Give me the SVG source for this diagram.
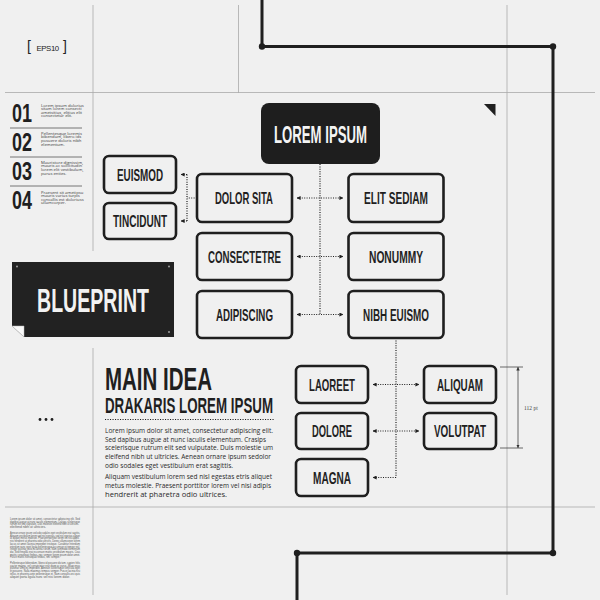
<svg xmlns="http://www.w3.org/2000/svg" width="600" height="600" viewBox="0 0 600 600">
<defs>
<style>
.grid{stroke:#a9a9a9;stroke-width:0.8;fill:none}
.node rect{fill:#f0f0f0;stroke:#1f1f1f;stroke-width:2.6}
.lbl{font-family:"Liberation Sans",Arial,sans-serif;font-weight:bold;font-size:16.5px;fill:#1f1f1f}
.head{font-family:"Liberation Sans",Arial,sans-serif;font-weight:bold;fill:#1f1f1f}
.body{font-family:"Open Sans","Liberation Sans",sans-serif;font-size:7.2px;fill:#2a2a2a}
.tiny{font-family:"Open Sans","Liberation Sans",sans-serif;font-size:4.2px;fill:#3a3a3a}
.micro{font-family:"Liberation Sans",sans-serif;font-size:2.6px;fill:#555}
.conn{stroke:#1f1f1f;stroke-width:1.2;stroke-dasharray:1 1.4;fill:none}
</style>
<marker id="ah" viewBox="0 0 4 4" refX="3.6" refY="2" markerWidth="4" markerHeight="4" markerUnits="userSpaceOnUse" orient="auto-start-reverse">
<path d="M0,0 L4,2 L0,4 z" fill="#1f1f1f"/>
</marker>
<marker id="dh" viewBox="0 0 4 4" refX="4" refY="2" markerWidth="3.5" markerHeight="3.5" markerUnits="userSpaceOnUse" orient="auto-start-reverse">
<path d="M0,0 L4,2 L0,4 z" fill="#333"/>
</marker>
</defs>
<rect width="600" height="600" fill="#f0f0f0"/>

<g id="grid">
<line class="grid" x1="93" y1="5" x2="93" y2="251"/>
<line class="grid" x1="93" y1="348" x2="93" y2="595"/>
<line class="grid" x1="238.5" y1="5" x2="238.5" y2="93"/>
<line class="grid" x1="507" y1="5" x2="507" y2="595"/>
<line class="grid" x1="5" y1="92.5" x2="595" y2="92.5"/>
<line class="grid" x1="5" y1="507" x2="595" y2="507"/>
</g>

<g id="frame-line">
<path d="M262,0 V46.5 H553 V553 H297 V600" fill="none" stroke="#1f1f1f" stroke-width="3"/>
<circle cx="262" cy="46.5" r="3.2" fill="#1f1f1f"/>
<circle cx="553" cy="46.5" r="3.2" fill="#1f1f1f"/>
<circle cx="553" cy="553" r="3.2" fill="#1f1f1f"/>
<circle cx="297" cy="553" r="3.2" fill="#1f1f1f"/>
</g>

<g id="eps">
<text x="27" y="50.5" font-family="Liberation Sans,sans-serif" font-size="14" fill="#222">[<tspan x="36.5" font-size="7.8" letter-spacing="-0.4">EPS10</tspan><tspan x="63" font-size="14">]</tspan></text>
</g>

<g id="numbers">
<line x1="10" y1="128" x2="82" y2="128" stroke="#555" stroke-width="0.8"/>
<line x1="10" y1="157" x2="82" y2="157" stroke="#555" stroke-width="0.8"/>
<line x1="10" y1="186" x2="82" y2="186" stroke="#555" stroke-width="0.8"/>
<text class="head" x="12" y="122" font-size="25" textLength="20" lengthAdjust="spacingAndGlyphs">01</text>
<text class="head" x="12" y="151" font-size="25" textLength="20" lengthAdjust="spacingAndGlyphs">02</text>
<text class="head" x="12" y="180" font-size="25" textLength="20" lengthAdjust="spacingAndGlyphs">03</text>
<text class="head" x="12" y="209" font-size="25" textLength="20" lengthAdjust="spacingAndGlyphs">04</text>
<text class="tiny"><tspan x="41" y="106.5">Lorem ipsum dolorius</tspan><tspan x="41" y="110">sitam lorem consecti</tspan><tspan x="41" y="113.7">ametsitius, elitius elit</tspan><tspan x="41" y="117.3">consectetur elit.</tspan></text>
<text class="tiny"><tspan x="41" y="134.8">Pellentesque loremis</tspan><tspan x="41" y="138.4">bibendum, libero ids</tspan><tspan x="41" y="142">posuere doloris nibh</tspan><tspan x="41" y="145.6">elementum.</tspan></text>
<text class="tiny"><tspan x="41" y="163.5">Mauristore dignissim,</tspan><tspan x="41" y="167.3">mauris ac sollicitudin</tspan><tspan x="41" y="171.2">lorem elit vestibulum,</tspan><tspan x="41" y="175">purus enties.</tspan></text>
<text class="tiny"><tspan x="41" y="193.5">Praesent sit ametipsu</tspan><tspan x="41" y="197">mauris varius turpis</tspan><tspan x="41" y="200.7">convallis est doloriuss</tspan><tspan x="41" y="204.4">ullamcorper.</tspan></text>
</g>

<g id="blueprint">
<path d="M12,262 H174 V337 H24 L12,326 Z" fill="#222"/>
<path d="M12,326 H24 V337 Z" fill="#fafafa" stroke="#bbb" stroke-width="0.5"/>
<circle cx="17" cy="266.5" r="0.9" fill="#aaa"/>
<circle cx="169" cy="266.5" r="0.9" fill="#aaa"/>
<circle cx="169" cy="332" r="0.9" fill="#aaa"/>
<text class="head" x="37" y="312" font-size="33" style="fill:#f2f2f2" textLength="112" lengthAdjust="spacingAndGlyphs">BLUEPRINT</text>
</g>

<g id="dots">
<circle cx="40" cy="419.5" r="1.4" fill="#1f1f1f"/>
<circle cx="46" cy="419.5" r="1.4" fill="#1f1f1f"/>
<circle cx="52" cy="419.5" r="1.4" fill="#1f1f1f"/>
</g>

<g id="main-idea">
<text class="head" x="105" y="390" font-size="32" textLength="107" lengthAdjust="spacingAndGlyphs">MAIN IDEA</text>
<text class="head" x="105" y="413" font-size="21.5" textLength="168" lengthAdjust="spacingAndGlyphs">DRAKARIS LOREM IPSUM</text>
<line x1="105" y1="419.5" x2="274" y2="419.5" stroke="#1f1f1f" stroke-width="1.2" stroke-dasharray="1.1 1.4"/>
<text class="body" x="105" y="433" textLength="168" lengthAdjust="spacingAndGlyphs">Lorem ipsum dolor sit amet, consectetur adipiscing elit.</text>
<text class="body" x="105" y="441.7" textLength="161" lengthAdjust="spacingAndGlyphs">Sed dapibus augue at nunc iaculis elementum. Crasips</text>
<text class="body" x="105" y="450.4" textLength="168" lengthAdjust="spacingAndGlyphs">scelerisque rutrum elit sed vulputate. Duis molestie um</text>
<text class="body" x="105" y="459.1" textLength="166" lengthAdjust="spacingAndGlyphs">eleifend nibh ut ultricies. Aenean ornare ipsum sedolor</text>
<text class="body" x="105" y="467.8" textLength="128" lengthAdjust="spacingAndGlyphs">odio sodales eget vestibulum erat sagittis.</text>
<text class="body" x="105" y="479.3" textLength="167" lengthAdjust="spacingAndGlyphs">Aliquam vestibulum lorem sed nisl egestas etris aliquet</text>
<text class="body" x="105" y="488" textLength="166" lengthAdjust="spacingAndGlyphs">metus molestie. Praesent porttitor lorem vel nisi adipis</text>
<text class="body" x="105" y="496.7" textLength="122" lengthAdjust="spacingAndGlyphs">hendrerit at pharetra odio ultrices.</text>
</g>

<g id="fine-print">
<text class="micro" x="10" y="520" textLength="70" lengthAdjust="spacingAndGlyphs">Lorem ipsum dolor sit amet, consectetur adipiscing elit. Sed</text>
<text class="micro" x="10" y="522.7" textLength="70" lengthAdjust="spacingAndGlyphs">dapibus augue at nunc iaculis elementum. Crasips scelerisque</text>
<text class="micro" x="10" y="525.4" textLength="69" lengthAdjust="spacingAndGlyphs">rutrum elit sed vulputate. Duis molestie eleifend nibh ut ultricies.</text>
<text class="micro" x="10" y="528.1" textLength="36" lengthAdjust="spacingAndGlyphs">eleifend nibh ut ultricies.</text>
<text class="micro" x="10" y="534" textLength="70" lengthAdjust="spacingAndGlyphs">Aenean ornare ipsum sed odio sodales eget vestibulum erat sagittis.</text>
<text class="micro" x="10" y="536.7" textLength="70" lengthAdjust="spacingAndGlyphs">Aliquam vestibulum lorem sed nisl egestas, sed nisl egestas aliquet</text>
<text class="micro" x="10" y="539.4" textLength="69" lengthAdjust="spacingAndGlyphs">at aliquet metus molestie. Praesent porttitor lorem vel nisi adipis</text>
<text class="micro" x="10" y="542.1" textLength="70" lengthAdjust="spacingAndGlyphs">nisi hendrerit at pharetra odio ultrices. Donec ullamcorper lorem</text>
<text class="micro" x="10" y="544.8" textLength="70" lengthAdjust="spacingAndGlyphs">lacus sit amet lacinia imperdiet tristique. Curabitur interdum</text>
<text class="micro" x="10" y="547.5" textLength="70" lengthAdjust="spacingAndGlyphs">interdum nunc eget ligula pellentesque accumsan et tempor nisl.</text>
<text class="micro" x="10" y="550.2" textLength="70" lengthAdjust="spacingAndGlyphs">Integer pulvinar justo eu lacinia rutrum. Nam commodo elementum</text>
<text class="micro" x="10" y="552.9" textLength="70" lengthAdjust="spacingAndGlyphs">dui. Sed fringilla erat eu ornare mattis vestibulum mauris. Cras</text>
<text class="micro" x="10" y="555.6" textLength="70" lengthAdjust="spacingAndGlyphs">mattis consequat finibus, nec semper lorem ipsum dolor amet.</text>
<text class="micro" x="10" y="558.3" textLength="50" lengthAdjust="spacingAndGlyphs">Fusce mattis consequat finibus, nec semper.</text>
<text class="micro" x="10" y="564" textLength="70" lengthAdjust="spacingAndGlyphs">Pellentesque bibendum, libero id posuere dictum, sapien felis</text>
<text class="micro" x="10" y="566.7" textLength="70" lengthAdjust="spacingAndGlyphs">auctor magna, vel consectetur erat diam ac purus. Maecenas</text>
<text class="micro" x="10" y="569.4" textLength="70" lengthAdjust="spacingAndGlyphs">pulvinar ultrices imperdiet. Aenean scelerisque vehicula eget</text>
<text class="micro" x="10" y="572.1" textLength="70" lengthAdjust="spacingAndGlyphs">et posuere. Nulla maximus tempus semper. Fusce lacinia nisi</text>
<text class="micro" x="10" y="574.8" textLength="70" lengthAdjust="spacingAndGlyphs">tellus, in pharetra ante pellentesque et. Nam convallis orci quis</text>
<text class="micro" x="10" y="577.5" textLength="60" lengthAdjust="spacingAndGlyphs">aliquet porta ligula nunc vel nisi lorem dolor.</text>
</g>

<g id="connectors">
<path class="conn" d="M197,198 H187"/>
<path class="conn" d="M187,174.5 V221"/>
<path class="conn" d="M187,174.5 H181" marker-end="url(#ah)"/>
<path class="conn" d="M187,221 H181" marker-end="url(#ah)"/>
<path class="conn" d="M320,164 V314"/>
<path class="conn" d="M297,198 H343" marker-start="url(#ah)" marker-end="url(#ah)"/>
<path class="conn" d="M297,256.5 H343" marker-start="url(#ah)" marker-end="url(#ah)"/>
<path class="conn" d="M297,314.5 H343" marker-start="url(#ah)" marker-end="url(#ah)"/>
<path class="conn" d="M396,338 V477.5"/>
<path class="conn" d="M373,384.5 H419" marker-start="url(#ah)" marker-end="url(#ah)"/>
<path class="conn" d="M373,431 H419" marker-start="url(#ah)" marker-end="url(#ah)"/>
<path class="conn" d="M396,477.5 H373" marker-end="url(#ah)"/>
</g>

<g id="corner-mark">
<path d="M484,104 H495.5 V116 Z" fill="#1f1f1f"/>
</g>

<g id="dimension">
<line x1="500" y1="367" x2="523" y2="367" stroke="#444" stroke-width="0.8"/>
<line x1="500" y1="448" x2="523" y2="448" stroke="#444" stroke-width="0.8"/>
<line x1="518" y1="367" x2="518" y2="448" stroke="#444" stroke-width="0.8" marker-start="url(#dh)" marker-end="url(#dh)"/>
<text x="524" y="409.5" font-family="Liberation Serif,serif" font-size="5.5" fill="#444">112 pt</text>
</g>

<g id="n-lorem">
<rect x="261" y="103" width="119" height="61" rx="8" fill="#1e1e1e"/>
<text class="head" x="274" y="143" font-size="23.5" style="fill:#f4f4f4" textLength="93" lengthAdjust="spacingAndGlyphs">LOREM IPSUM</text>
</g>
<g id="n-euismod" class="node"><rect x="104" y="156" width="72" height="37" rx="5"/><text class="lbl" x="117" y="181" textLength="46" lengthAdjust="spacingAndGlyphs">EUISMOD</text></g>
<g id="n-tincidunt" class="node"><rect x="104" y="203" width="72" height="36" rx="5"/><text class="lbl" x="113" y="227" textLength="54" lengthAdjust="spacingAndGlyphs">TINCIDUNT</text></g>
<g id="n-dolorsita" class="node"><rect x="197" y="174" width="95" height="48" rx="5"/><text class="lbl" x="215" y="204" textLength="58" lengthAdjust="spacingAndGlyphs">DOLOR SITA</text></g>
<g id="n-consectetre" class="node"><rect x="197" y="233" width="95" height="47" rx="5"/><text class="lbl" x="208" y="262.5" textLength="73" lengthAdjust="spacingAndGlyphs">CONSECTETRE</text></g>
<g id="n-adipiscing" class="node"><rect x="197" y="291" width="95" height="47" rx="5"/><text class="lbl" x="216" y="320.5" textLength="57" lengthAdjust="spacingAndGlyphs">ADIPISCING</text></g>
<g id="n-elitsediam" class="node"><rect x="348.5" y="174" width="95" height="48" rx="5"/><text class="lbl" x="364" y="204" textLength="64" lengthAdjust="spacingAndGlyphs">ELIT SEDIAM</text></g>
<g id="n-nonummy" class="node"><rect x="348.5" y="233" width="95" height="47" rx="5"/><text class="lbl" x="369" y="262.5" textLength="54" lengthAdjust="spacingAndGlyphs">NONUMMY</text></g>
<g id="n-nibheuismo" class="node"><rect x="348.5" y="291" width="95" height="47" rx="5"/><text class="lbl" x="363" y="320.5" textLength="66" lengthAdjust="spacingAndGlyphs">NIBH EUISMO</text></g>
<g id="n-laoreet" class="node"><rect x="296" y="366" width="72" height="37" rx="5"/><text class="lbl" x="309" y="390.5" textLength="46" lengthAdjust="spacingAndGlyphs">LAOREET</text></g>
<g id="n-dolore" class="node"><rect x="296" y="413" width="72" height="36" rx="5"/><text class="lbl" x="312" y="437" textLength="40" lengthAdjust="spacingAndGlyphs">DOLORE</text></g>
<g id="n-magna" class="node"><rect x="296" y="459" width="72" height="37" rx="5"/><text class="lbl" x="313" y="483.5" textLength="38" lengthAdjust="spacingAndGlyphs">MAGNA</text></g>
<g id="n-aliquam" class="node"><rect x="424" y="366" width="72" height="37" rx="5"/><text class="lbl" x="437" y="390.5" textLength="46" lengthAdjust="spacingAndGlyphs">ALIQUAM</text></g>
<g id="n-volutpat" class="node"><rect x="424" y="413" width="72" height="36" rx="5"/><text class="lbl" x="434" y="437" textLength="52" lengthAdjust="spacingAndGlyphs">VOLUTPAT</text></g>
</svg>
